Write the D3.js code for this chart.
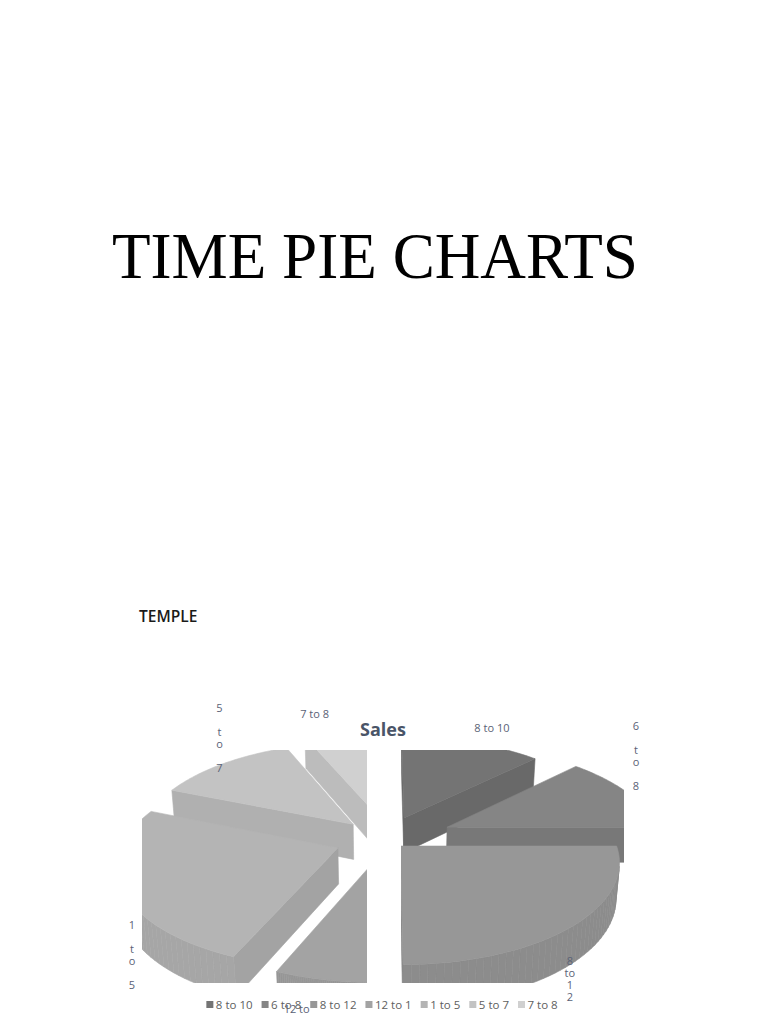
<!DOCTYPE html>
<html><head><meta charset="utf-8">
<script src="https://cdn.jsdelivr.net/npm/d3@7"></script>
<style>body{margin:0;background:#fff} svg{display:block}</style>
</head><body>
<svg id="c" width="768" height="1024"></svg>
<script>
// ---- data ----
const pageTitle = "TIME PIE CHARTS";
const sectionTitle = "TEMPLE";
const chartTitle = "Sales";
const categories = ["8 to 10", "6 to 8", "8 to 12", "12 to 1", "1 to 5", "5 to 7", "7 to 8"];
const values = [2, 2, 4, 1, 4, 2, 1]; // hours per time slot
const sliceColors = ["#747474", "#858585", "#979797", "#a3a3a3", "#b4b4b4", "#c3c3c3", "#d0d0d0"];
const explode = [0.24, 0.32, 0.10, 0.20, 0.235, 0.215, 0.31];
const labelWrap = [10, 1, 2, 5, 1, 1, 10];
const labelNudge = [[3, 5], [0, -27], [-64, 26], [-8, -10], [0, 53], [32, -10], [-16, 1]];

// ---- setup ----
const svg = d3.select("#c");
svg.append("text").attr("x", 112).attr("y", 278)
  .attr("font-family", "'Liberation Serif','Times New Roman',serif").attr("font-size", 66)
  .attr("textLength", 526).attr("lengthAdjust", "spacingAndGlyphs")
  .attr("fill", "#000").text(pageTitle);
svg.append("text").attr("x", 139).attr("y", 622)
  .attr("font-family", "'Open Sans',sans-serif").attr("font-size", 15.5).attr("font-weight", 600)
  .attr("fill", "#1a1a1a").text(sectionTitle);

// perspective camera
const cam = {cx: 385, cy: 839, s0: 214, t: 0.15, sinA: 0.46, cosA: 0.888, h: 0.19};
const sx = d3.scaleLinear().domain([0, 1]).range([0, cam.s0]);
function proj(X, Y, Z) {
  const q = 1 + cam.t * Y - cam.t * (cam.sinA / cam.cosA) * Z;
  return [cam.cx + sx(X) / q, cam.cy - sx(Y * cam.sinA + Z * cam.cosA) / q];
}
const D = cam.cosA / cam.t;
const camPos = [0, -D * cam.cosA, D * cam.sinA];
function visible(P, n) {
  return (P[0] - camPos[0]) * n[0] + (P[1] - camPos[1]) * n[1] + (P[2] - camPos[2]) * n[2] < 0;
}

const defs = svg.append("defs");
const cp = defs.append("clipPath").attr("id", "plotClip");
cp.append("rect").attr("x", 142).attr("y", 750).attr("width", 225).attr("height", 233);
cp.append("rect").attr("x", 401).attr("y", 750).attr("width", 223).attr("height", 233);

const arcs = d3.pie().sort(null).value(d => d)(values);
const slices = arcs.map((a, i) => {
  const m = (a.startAngle + a.endAngle) / 2;
  const e = explode[i];
  return {i, a0: a.startAngle, a1: a.endAngle, m, ox: e * Math.sin(m), oy: e * Math.cos(m),
    depthY: e * Math.cos(m) + 0.5 * Math.cos(m)};
});
const P3 = (s, r, ang, Z) => [s.ox + r * Math.sin(ang), s.oy + r * Math.cos(ang), Z];
const line = d3.line();

const g = svg.append("g").attr("clip-path", "url(#plotClip)");
const order = slices.slice().sort((p, q) => q.depthY - p.depthY);
order.forEach(s => {
  const col = sliceColors[s.i];
  const sg = g.append("g");
  const N = 48;
  const h = -cam.h;
  const faces = [];
  // radial faces
  const nStart = [-Math.cos(s.a0), Math.sin(s.a0), 0];
  const nEnd = [Math.cos(s.a1), -Math.sin(s.a1), 0];
  [[s.a0, nStart], [s.a1, nEnd]].forEach(([ang, n]) => {
    const A = P3(s, 0, 0, 0), B = P3(s, 1, ang, 0);
    if (visible([(A[0] + B[0]) / 2, (A[1] + B[1]) / 2, -cam.h / 2], n)) {
      faces.push({pts: [A, B, P3(s, 1, ang, h), P3(s, 0, 0, h)], fill: d3.color(col).darker(0.28)});
    }
  });
  // outer wall
  for (let k = 0; k < N; k++) {
    const b0 = s.a0 + (s.a1 - s.a0) * k / N, b1 = s.a0 + (s.a1 - s.a0) * (k + 1) / N;
    const bm = (b0 + b1) / 2;
    if (visible(P3(s, 1, bm, h / 2), [Math.sin(bm), Math.cos(bm), 0])) {
      faces.push({pts: [P3(s, 1, b0, 0), P3(s, 1, b1, 0), P3(s, 1, b1, h), P3(s, 1, b0, h)],
        fill: d3.color(col).darker(0.22)});
    }
  }
  faces.forEach(f => {
    sg.append("path").attr("d", line(f.pts.map(p => proj(...p))) + "Z")
      .attr("fill", f.fill).attr("stroke", f.fill).attr("stroke-width", 0.6);
  });
  // top face
  const top = [P3(s, 0, 0, 0)];
  for (let k = 0; k <= N; k++) top.push(P3(s, 1, s.a0 + (s.a1 - s.a0) * k / N, 0));
  sg.append("path").attr("d", line(top.map(p => proj(...p))) + "Z")
    .attr("fill", col).attr("stroke", col).attr("stroke-width", 0.6);
});

// chart title
svg.append("text").attr("x", 383).attr("y", 736).attr("text-anchor", "middle")
  .attr("font-family", "'Open Sans',sans-serif").attr("font-size", 18).attr("font-weight", 700)
  .attr("fill", "#4a5568").text(chartTitle);

// data labels (character-wrapped like the narrow label boxes of the original)
function wrap(str, n) {
  const out = [];
  for (let k = 0; k < str.length; k += n) out.push(str.slice(k, k + n).trim());
  return out;
}
const lg = svg.append("g");
slices.forEach(s => {
  const r = 1.3;
  let [x, y] = proj(s.ox + r * Math.sin(s.m), s.oy + r * Math.cos(s.m), 0);
  x = Math.max(132, Math.min(636, x));
  x += labelNudge[s.i][0]; y += labelNudge[s.i][1];
  const lines = wrap(categories[s.i], labelWrap[s.i]);
  const lh = 12;
  const y0 = y - (lines.length - 1) * lh / 2;
  const t = lg.append("text").attr("text-anchor", "middle")
    .attr("font-family", "'Open Sans',sans-serif").attr("font-size", 11).attr("fill", "#5a6276");
  lines.forEach((ln, k) => {
    const ly = y0 + k * lh;
    if (ly > 1012) return; // the chart area cuts the rest off
    t.append("tspan").attr("x", x).attr("y", ly).attr("dy", "0.35em").text(ln || "\u00a0");
  });
});

// legend
const leg = svg.append("g");
let lx = 0;
categories.forEach((c, i) => {
  const it = leg.append("g");
  it.append("rect").attr("x", lx).attr("y", 1001).attr("width", 7).attr("height", 7).attr("fill", sliceColors[i]);
  const tx = it.append("text").attr("x", lx + 9.5).attr("y", 1009)
    .attr("font-family", "'Open Sans',sans-serif").attr("font-size", 11.5).attr("fill", "#606060").text(c);
  lx += 9.5 + tx.node().getComputedTextLength() + 9;
});
const total = lx - 9;
leg.attr("transform", `translate(${382 - total / 2},0)`);
</script>
</body></html>
